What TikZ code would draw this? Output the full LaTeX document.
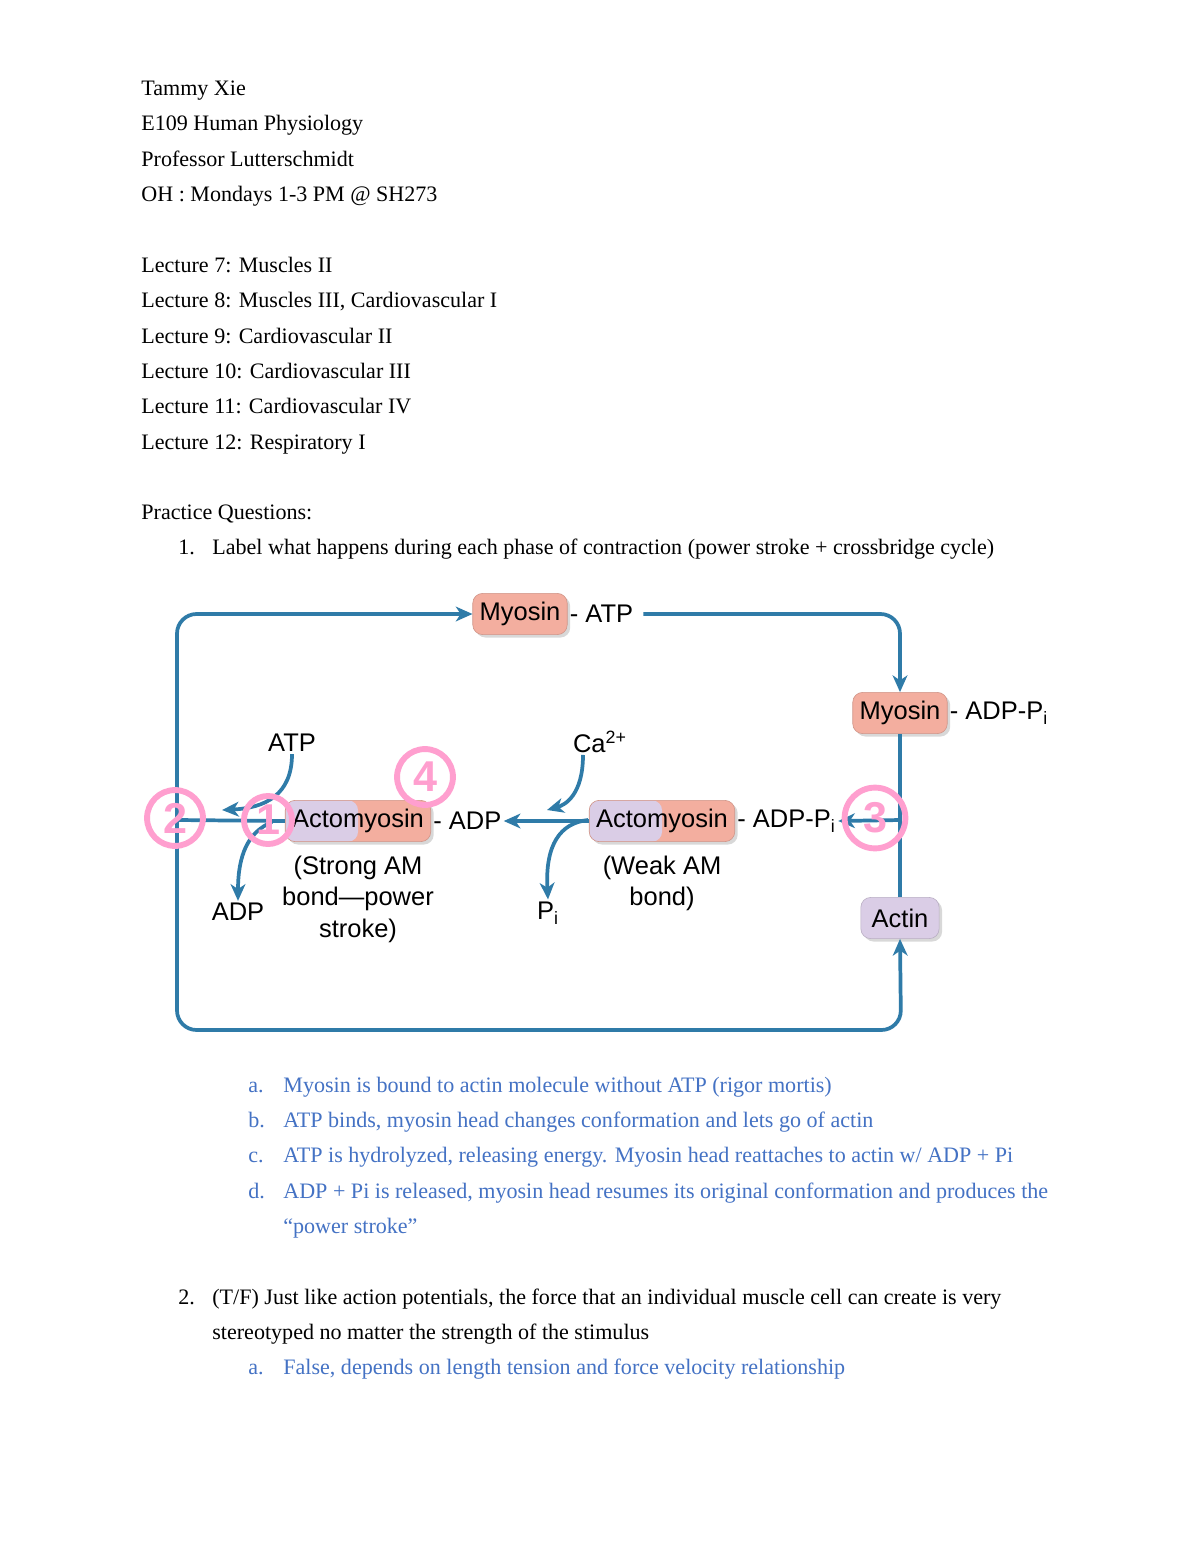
\documentclass[tikz,border=0pt]{standalone}
\usepackage{fontspec}
\setmainfont{Liberation Serif}
\setsansfont{Liberation Sans}
\usetikzlibrary{arrows.meta,shadows,positioning}
\definecolor{flowblue}{HTML}{2F7BA8}
\definecolor{myopink}{HTML}{F3AE9F}
\definecolor{actlav}{HTML}{DACDE6}
\definecolor{ansblue}{HTML}{4472C4}
\definecolor{markpink}{HTML}{FF9FCF}
\tikzset{
  txt/.style={anchor=base west, inner sep=0pt, font=\fontsize{11.25}{13}\selectfont},
  ans/.style={txt, text=ansblue},
  mol/.style={rounded corners=5pt, minimum height=21pt, inner xsep=3.5pt, inner ysep=0pt,
    font=\sffamily\fontsize{13}{15}\selectfont, line width=.3pt,
    drop shadow={shadow xshift=1.5pt, shadow yshift=-1.5pt, opacity=.3, fill=black!50}},
  myo/.style={mol, fill=myopink, draw=myopink!85!black},
  act/.style={mol, fill=actlav, draw=actlav!85!black},
  actmyo/.style={myo, path picture={\fill[actlav] (path picture bounding box.south west)
    rectangle (path picture bounding box.north);}},
  lbl/.style={font=\sffamily\fontsize{13}{16}\selectfont, inner sep=1pt, align=center},
  flow/.style={draw=flowblue, line width=1.9pt, -{Stealth[length=8.5pt,width=7.5pt,inset=2.5pt]}},
  flowline/.style={draw=flowblue, line width=1.9pt},
  pinkmark/.style={circle, draw=markpink, line width=3pt, text=markpink,
    font=\sffamily\bfseries\fontsize{22}{22}\selectfont, inner sep=0pt}
}
\begin{document}
\begin{tikzpicture}[x=0.51pt, y=-0.51pt]
  \fill[white] (0,0) rectangle (1200,1553);
  \useasboundingbox (0,0) rectangle (1200,1553);
  % header
  \node[txt] (author) at (141,96) {Tammy Xie};
  \node[txt] (course) at (141,131) {E109 Human Physiology};
  \node[txt] (prof) at (141,167) {Professor Lutterschmidt};
  \node[txt] (hours) at (141,202) {OH : Mondays 1-3 PM @ SH273};
  \node[txt] (lec7) at (141,272) {Lecture 7: Muscles II};
  \node[txt] (lec8) at (141,307) {Lecture 8: Muscles III, Cardiovascular I};
  \node[txt] (lec9) at (141,343) {Lecture 9: Cardiovascular II};
  \node[txt] (lec10) at (141,378) {Lecture 10: Cardiovascular III};
  \node[txt] (lec11) at (141,413) {Lecture 11: Cardiovascular IV};
  \node[txt] (lec12) at (141,449) {Lecture 12: Respiratory I};
  \node[txt] (practice) at (141,519) {Practice Questions:};
  \node[txt] (qnum1) at (178,554) {1.};
  \node[txt] (qone) at (212,554) {Label what happens during each phase of contraction (power stroke + crossbridge cycle)};

  % crossbridge cycle
  \node[myo] (myoatp) at (520,614) {Myosin};
  \node[lbl, right=0pt of myoatp] (atpa) {- ATP};
  \node[myo] (myoadp) at (900,713) {Myosin};
  \node[lbl, right=0pt of myoadp] (adppia) {- ADP-P\textsubscript{i}};
  \node[actmyo] (amadppi) at (662,821) {Actomyosin};
  \node[lbl, right=0pt of amadppi] (adppib) {- ADP-P\textsubscript{i}};
  \node[lbl, below=6pt of amadppi] (weak) {(Weak AM\\bond)};
  \node[actmyo] (amadp) at (358,821) {Actomyosin};
  \node[lbl, right=0pt of amadp] (adpa) {- ADP};
  \node[lbl, below=6pt of amadp] (strong) {(Strong AM\\bond---power\\stroke)};
  \node[act, inner xsep=5.5pt] (actin) at (900,918) {Actin};
  \node[lbl] (ca) at (600,742) {Ca\textsuperscript{2+}};
  \node[lbl] (pi) at (548,913) {P\textsubscript{i}};
  \node[lbl] (atpin) at (292,743) {ATP};
  \node[lbl] (adpout) at (238,912) {ADP};
  \coordinate (jleft) at (177,820);
  \coordinate (jright) at (901,820);
  \coordinate (jbottom) at (901,1030);
  \coordinate (jmid) at (588,820);
  \coordinate (jrel) at (272,822);

  \draw[flow, rounded corners=10pt] (jleft) |- (myoatp.west);
  \draw[flow, rounded corners=10pt, shorten <=4pt] (atpa.east) -| (myoadp.north);
  \draw[flowline] (myoadp.south) -- (actin.north);
  \draw[flow] (jright) -- (adppib.east);
  \draw[flow, rounded corners=10pt] (jleft) |- (jbottom) -- (actin.south);
  \draw[flow] (amadppi.west) -- (adpa.east);
  \draw[flow] (jmid) .. controls (560,823) and (545,845) .. (pi.north);
  \draw[flow] (ca.south -| 583,0) .. controls (583,795) and (565,805) .. (547,810);
  \draw[flowline] (amadp.west) -- (jleft);
  \draw[flow] (atpin.south) .. controls (292,795) and (265,808) .. (222,810);
  \draw[flow] (jrel) .. controls (248,832) and (238,855) .. (adpout.north);

  % handwritten numbers
  \node[pinkmark, minimum size=28.5pt] (mtwo) at (175,818) {2};
  \node[pinkmark, minimum size=24.5pt] (mone) at (268,820) {1};
  \node[pinkmark, minimum size=28.5pt] (mfour) at (425,777) {4};
  \node[pinkmark, minimum size=31pt] (mthree) at (875,818) {3};

  % answers
  \node[ans] (ansa) at (248,1092) {a.};
  \node[ans] (ansatext) at (283,1092) {Myosin is bound to actin molecule without ATP (rigor mortis)};
  \node[ans] (ansb) at (248,1127) {b.};
  \node[ans] (ansbtext) at (283,1127) {ATP binds, myosin head changes conformation and lets go of actin};
  \node[ans] (ansc) at (248,1162) {c.};
  \node[ans] (ansctext) at (283,1162) {ATP is hydrolyzed, releasing energy. Myosin head reattaches to actin w/ ADP + Pi};
  \node[ans] (ansd) at (248,1198) {d.};
  \node[ans] (ansdtext) at (283,1198) {ADP + Pi is released, myosin head resumes its original conformation and produces the};
  \node[ans] (ansdmore) at (283,1233) {``power stroke''};
  \node[txt] (qnum2) at (178,1304) {2.};
  \node[txt] (qtwo) at (212,1304) {(T/F) Just like action potentials, the force that an individual muscle cell can create is very};
  \node[txt] (qtwomore) at (212,1339) {stereotyped no matter the strength of the stimulus};
  \node[ans] (anstwo) at (248,1374) {a.};
  \node[ans] (anstwotext) at (283,1374) {False, depends on length tension and force velocity relationship};
\end{tikzpicture}
\end{document}
